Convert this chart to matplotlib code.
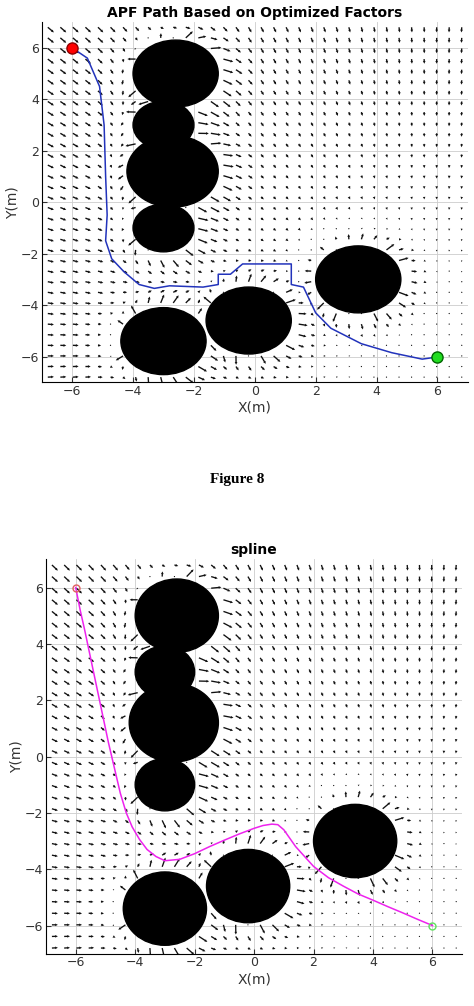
import numpy as np
import matplotlib
matplotlib.use("Agg")
import matplotlib.pyplot as plt
from matplotlib.patches import Ellipse

obs_x = [-2.6, -3.0, -2.7, -3.0, -3.0, -0.2, 3.4]
obs_y = [5.0, 3.0, 1.2, -1.0, -5.4, -4.6, -3.0]
obs_r = [1.4, 1.0, 1.5, 1.0, 1.4, 1.4, 1.4]
start = (-6, 6)
goal = (6, -6)

apf_x = [-6, -5.5, -5.1, -4.95, -4.9, -4.85, -4.9, -4.7, -4.3, -3.8, -3.3, -2.8, -1.7, -1.2, -1.2,
         -0.8, -0.4, 1.2, 1.2, 1.6, 1.8, 2.0, 2.5, 3.5, 4.5, 5.5, 5.8, 6]
apf_y = [6, 5.6, 4.5, 3.0, 1.0, -0.5, -1.5, -2.2, -2.7, -3.2, -3.35, -3.25, -3.3, -3.2, -2.8,
         -2.8, -2.4, -2.4, -3.2, -3.3, -3.8, -4.3, -4.9, -5.5, -5.85, -6.1, -6.05, -6]
spl_x = [-6, -5.85, -5.7, -5.5, -5.3, -5.1, -4.9, -4.7, -4.5, -4.3, -4.1, -3.85, -3.6, -3.3, -3.0, -2.5,
         -2.0, -1.5, -1.0, -0.5, 0.0, 0.3, 0.6, 0.8, 1.0, 1.2, 1.4, 1.7, 2.0, 2.5, 3.0, 3.5, 4.0, 4.5, 5.0, 5.5, 6.0]
spl_y = [6, 5.2, 4.5, 3.5, 2.5, 1.5, 0.5, -0.4, -1.3, -2.0, -2.5, -2.95, -3.3, -3.55, -3.7, -3.65,
         -3.45, -3.2, -2.97, -2.75, -2.55, -2.45, -2.4, -2.42, -2.6, -2.9, -3.2, -3.55, -3.9, -4.3, -4.6, -4.88, -5.1, -5.33, -5.55, -5.78, -6.0]

def field():
    g = np.linspace(-6.8, 6.8, 34)
    X, Y = np.meshgrid(g, g)
    U = (goal[0] - X) * 0.05
    V = (goal[1] - Y) * 0.05
    for cx, cy, r in zip(obs_x, obs_y, obs_r):
        dx, dy = X - cx, Y - cy
        d = np.hypot(dx, dy)
        inf = r + 1.5
        m = (d < inf) & (d > r)
        k = np.zeros_like(d)
        k[m] = 0.6 * (1 / (d[m] - r + 0.3) - 1 / (inf - r + 0.3))
        U += k * dx / np.maximum(d, 1e-6)
        V += k * dy / np.maximum(d, 1e-6)
    mag = np.hypot(U, V)
    s = np.minimum(mag, 1.1) / np.maximum(mag, 1e-9)
    U, V = U * s, V * s
    inside = np.zeros_like(X, bool)
    for cx, cy, r in zip(obs_x, obs_y, obs_r):
        inside |= np.hypot(X - cx, Y - cy) < r
    U[inside] = 0; V[inside] = 0
    return X, Y, U, V

fig = plt.figure(figsize=(4.74, 10.06), dpi=100)

def panel(rect, title, px, py, color, filled):
    ax = fig.add_axes(rect)
    X, Y, U, V = field()
    ax.quiver(X, Y, U, V, angles='xy', scale_units='xy', scale=3.2, width=0.0032,
              headwidth=2, headlength=2, headaxislength=2, color='#111111')
    for cx, cy, r in zip(obs_x, obs_y, obs_r):
        ax.add_patch(Ellipse((cx, cy), 2 * r, 2 * r * 0.93, color='black', zorder=3))
    ax.plot(px, py, color=color, lw=1.1, zorder=4)
    if filled:
        ax.plot(*start, 'o', ms=8, mfc='red', mec='darkred', zorder=5)
        ax.plot(*goal, 'o', ms=8, mfc='#22dd22', mec='darkgreen', zorder=5)
    else:
        ax.plot(*start, 'o', ms=5, mfc='none', mec='#e06060', zorder=5)
        ax.plot(*goal, 'o', ms=5, mfc='none', mec='#60e060', zorder=5)
    ax.set_xlim(-7, 7); ax.set_ylim(-7, 7)
    ax.set_xticks(range(-6, 7, 2)); ax.set_yticks(range(-6, 7, 2))
    ax.grid(True, color='#cccccc', lw=0.6)
    ax.set_axisbelow(True)
    for s in ['top', 'right']:
        ax.spines[s].set_visible(False)
    ax.tick_params(labelsize=9, colors='#333333', direction='in', pad=2)
    ax.set_xlabel('X(m)', fontsize=10, color='#333333', labelpad=2)
    ax.set_ylabel('Y(m)', fontsize=10, color='#333333', labelpad=1)
    ax.set_title(title, fontsize=10, fontweight='bold', pad=4)
    return ax

panel([0.088, 0.620, 0.899, 0.358], 'APF Path Based on Optimized Factors', apf_x, apf_y, '#2233bb', True)
panel([0.097, 0.052, 0.878, 0.392], 'spline', spl_x, spl_y, '#ee22ee', False)
fig.text(0.5, 0.523, 'Figure 8', ha='center', va='center', fontsize=11, fontweight='bold',
         family='Liberation Serif')
fig.savefig('out.png', dpi=100)
